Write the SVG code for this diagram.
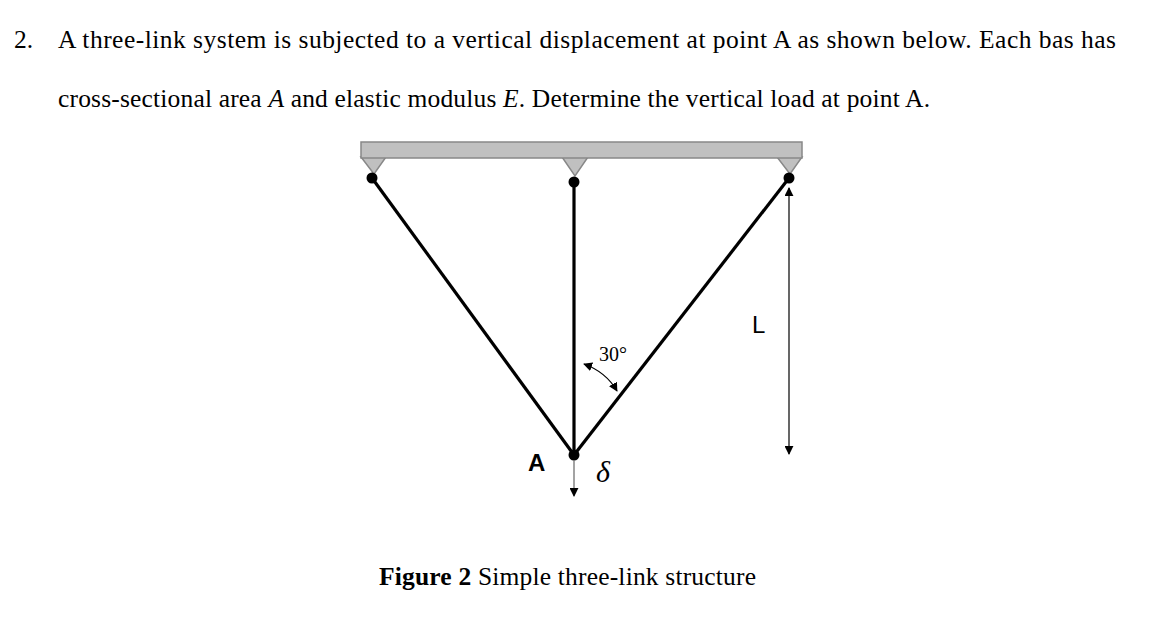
<svg xmlns="http://www.w3.org/2000/svg" width="1170" height="621" viewBox="0 0 1170 621">
<style>
.t{font-family:"Liberation Serif",serif;font-size:25.5px;fill:#000}
.s{fill:#c0c0c0;stroke:#888;stroke-width:1.5}
.link{stroke:#000;stroke-width:3.2;fill:none}
.thin{stroke:#000;stroke-width:1.2;fill:none}
</style>
<defs>
<marker id="ar" viewBox="0 0 10 10" refX="9" refY="5" markerWidth="9" markerHeight="9" markerUnits="userSpaceOnUse" orient="auto-start-reverse"><path d="M0,0L10,5L0,10z" fill="#000"/></marker>
</defs>
<rect width="1170" height="621" fill="#fff"/>
<text class="t" x="14" y="48">2.</text>
<text class="t" x="58" y="48" textLength="1058" lengthAdjust="spacing">A three-link system is subjected to a vertical displacement at point A as shown below. Each bas has</text>
<text class="t" x="58" y="107" textLength="872" lengthAdjust="spacing">cross-sectional area <tspan font-style="italic">A</tspan> and elastic modulus <tspan font-style="italic">E</tspan>. Determine the vertical load at point A.</text>
<g id="support">
<polygon class="s" points="361,157 386,157 374,174"/>
<polygon class="s" points="562,157 588,157 575,176"/>
<polygon class="s" points="777,157 802,157 790,174"/>
<rect class="s" x="361" y="142" width="441" height="16"/>
</g>
<g id="links">
<line class="link" x1="372" y1="178" x2="574" y2="455"/>
<line class="link" x1="574" y1="182" x2="574" y2="455"/>
<line class="link" x1="789" y1="178" x2="574" y2="455"/>
<circle cx="372" cy="178" r="5.5"/>
<circle cx="574" cy="182" r="5.5"/>
<circle cx="789" cy="178" r="5.5"/>
<circle cx="574" cy="455" r="5.5"/>
</g>
<g id="dims">
<line class="thin" x1="789" y1="188" x2="789" y2="454" marker-start="url(#ar)" marker-end="url(#ar)"/>
<text x="752" y="333" font-family="Liberation Sans,sans-serif" font-size="24">L</text>
<path class="thin" d="M584,364 Q606,372 617,391" stroke-width="1.5" marker-start="url(#ar)" marker-end="url(#ar)"/>
<text x="599" y="361" font-family="Liberation Serif,serif" font-size="20">30°</text>
<line x1="574" y1="460" x2="574" y2="496" stroke="#666" stroke-width="1.2" marker-end="url(#ar)"/>
<text x="528" y="471" font-family="Liberation Sans,sans-serif" font-size="24" font-weight="bold">A</text>
<text x="596" y="482" font-family="Liberation Serif,serif" font-size="30" font-style="italic">δ</text>
</g>
<text class="t" x="379" y="585" textLength="377" lengthAdjust="spacing"><tspan font-weight="bold">Figure 2</tspan> Simple three-link structure</text>
</svg>
